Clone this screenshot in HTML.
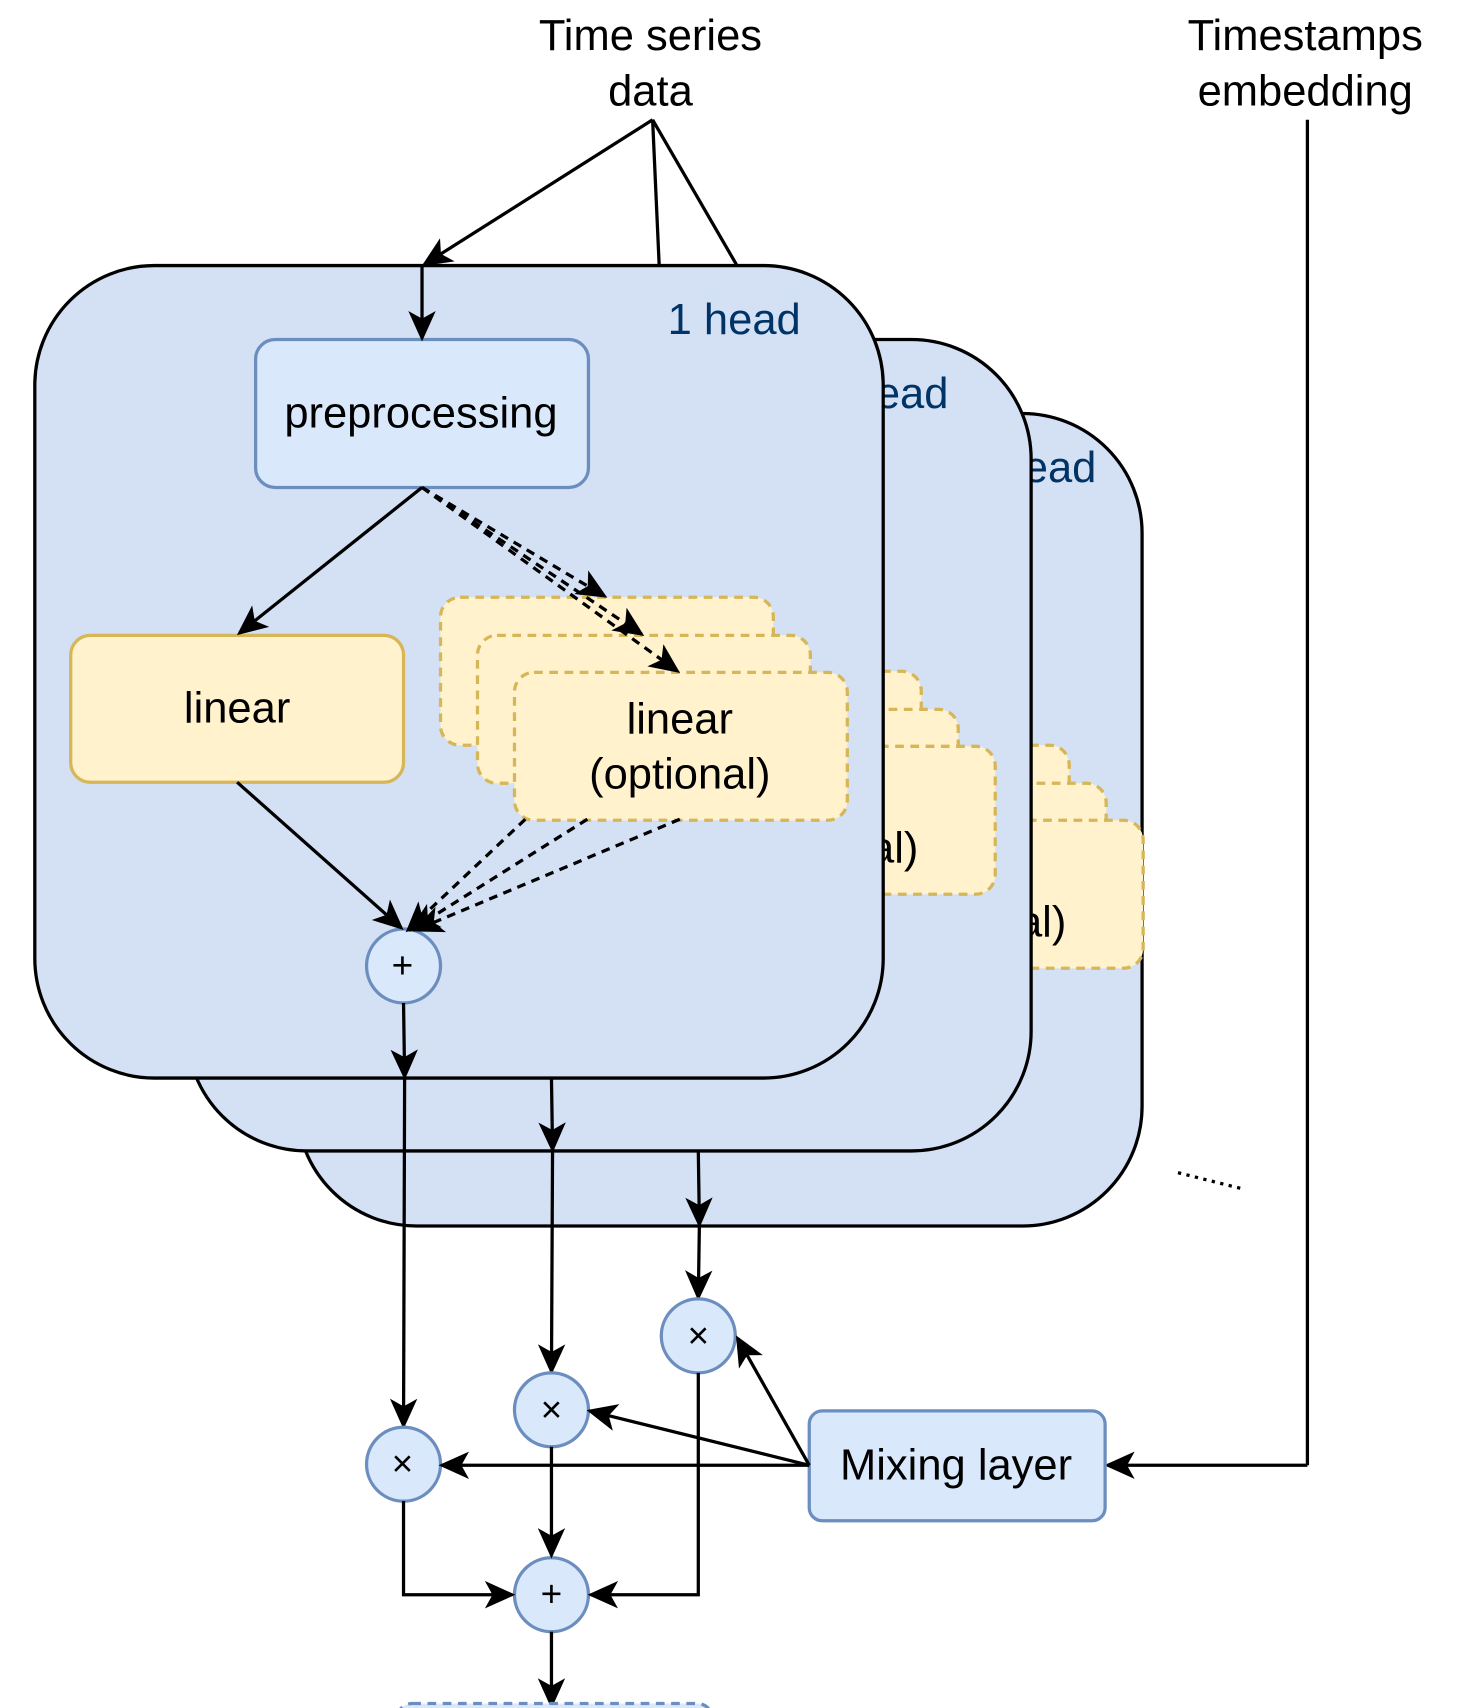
<!DOCTYPE html>
<html><head><meta charset="utf-8"><style>
html,body{margin:0;padding:0;background:#fff;}
svg{display:block;}
text{font-family:"Liberation Sans",Arial,sans-serif;}
</style></head><body>
<svg width="1476" height="1708" viewBox="0 0 1357 1570" xmlns="http://www.w3.org/2000/svg">
<defs>
<marker id="a" markerUnits="userSpaceOnUse" markerWidth="28" markerHeight="28" viewBox="0 0 20 20" refX="18" refY="10" orient="auto">
<path d="M0,1 L20,10 L0,19 L5,10 z" fill="#000"/>
</marker>
</defs>
<g fill="none" stroke="#000" stroke-width="3">
<rect x="273" y="380" width="777" height="747" rx="110" fill="#d4e1f5"/>
<rect x="677" y="685" width="306" height="136" rx="18" fill="#fff2cc" stroke="#d6b656" stroke-dasharray="8,6"/>
<rect x="711" y="720" width="306" height="136" rx="18" fill="#fff2cc" stroke="#d6b656" stroke-dasharray="8,6"/>
<rect x="745" y="754" width="306" height="136" rx="18" fill="#fff2cc" stroke="#d6b656" stroke-dasharray="8,6"/>
</g>
<text x="1008" y="443" font-size="40" fill="#003366" text-anchor="end">3 head</text>
<text x="897" y="797" font-size="40" text-anchor="middle">linear</text>
<text x="897" y="861" font-size="40" text-anchor="middle">(optional)</text>
<g fill="none" stroke="#000" stroke-width="3">
<rect x="172" y="312" width="776" height="746" rx="110" fill="#d4e1f5"/>
<rect x="541" y="617" width="306" height="136" rx="18" fill="#fff2cc" stroke="#d6b656" stroke-dasharray="8,6"/>
<rect x="575" y="652" width="306" height="136" rx="18" fill="#fff2cc" stroke="#d6b656" stroke-dasharray="8,6"/>
<rect x="609" y="686" width="306" height="136" rx="18" fill="#fff2cc" stroke="#d6b656" stroke-dasharray="8,6"/>
</g>
<text x="872" y="375" font-size="40" fill="#003366" text-anchor="end">2 head</text>
<text x="761" y="729" font-size="40" text-anchor="middle">linear</text>
<text x="761" y="793" font-size="40" text-anchor="middle">(optional)</text>
<g fill="none" stroke="#000" stroke-width="3">
<rect x="32" y="244" width="780" height="747" rx="110" fill="#d4e1f5"/>
<rect x="235" y="312" width="306" height="136" rx="18" fill="#dae8fc" stroke="#6c8ebf"/>
<rect x="65" y="584" width="306" height="135" rx="18" fill="#fff2cc" stroke="#d6b656"/>
<rect x="405" y="549" width="306" height="136" rx="18" fill="#fff2cc" stroke="#d6b656" stroke-dasharray="8,6"/>
<rect x="439" y="584" width="306" height="136" rx="18" fill="#fff2cc" stroke="#d6b656" stroke-dasharray="8,6"/>
<rect x="473" y="618" width="306" height="136" rx="18" fill="#fff2cc" stroke="#d6b656" stroke-dasharray="8,6"/>
<circle cx="371" cy="888" r="34" fill="#dae8fc" stroke="#6c8ebf"/>
<line x1="388" y1="244" x2="388" y2="311" marker-end="url(#a)"/>
<line x1="388" y1="448" x2="220" y2="582" marker-end="url(#a)"/>
<g stroke-dasharray="8,6">
<line x1="388" y1="448" x2="556" y2="548" marker-end="url(#a)"/>
<line x1="388" y1="448" x2="590" y2="583" marker-end="url(#a)"/>
<line x1="388" y1="448" x2="623" y2="617" marker-end="url(#a)"/>
<line x1="483" y1="753" x2="375" y2="855" marker-end="url(#a)"/>
<line x1="540" y1="753" x2="378" y2="855" marker-end="url(#a)"/>
<line x1="625" y1="753" x2="382" y2="855" marker-end="url(#a)"/>
</g>
<line x1="218" y1="719" x2="369" y2="853" marker-end="url(#a)"/>
<line x1="600" y1="110" x2="390" y2="243" marker-end="url(#a)"/>
<line x1="600" y1="110" x2="606" y2="243"/>
<line x1="600" y1="110" x2="677" y2="243"/>
<line x1="1202" y1="110" x2="1202" y2="1347"/>
<line x1="1202" y1="1347" x2="1018" y2="1347" marker-end="url(#a)"/>
<line x1="371" y1="922" x2="372" y2="990" marker-end="url(#a)"/>
<line x1="372" y1="990" x2="371" y2="1311" marker-end="url(#a)"/>
<line x1="507" y1="991" x2="508" y2="1057" marker-end="url(#a)"/>
<line x1="508" y1="1057" x2="507" y2="1261" marker-end="url(#a)"/>
<line x1="642" y1="1058" x2="643" y2="1126" marker-end="url(#a)"/>
<line x1="643" y1="1126" x2="642" y2="1193" marker-end="url(#a)"/>
<circle cx="642" cy="1228" r="34" fill="#dae8fc" stroke="#6c8ebf"/>
<circle cx="507" cy="1296" r="34" fill="#dae8fc" stroke="#6c8ebf"/>
<circle cx="371" cy="1346" r="34" fill="#dae8fc" stroke="#6c8ebf"/>
<circle cx="507" cy="1466" r="34" fill="#dae8fc" stroke="#6c8ebf"/>
<rect x="744" y="1297" width="272" height="101" rx="12" fill="#dae8fc" stroke="#6c8ebf"/>
<line x1="744" y1="1347" x2="406" y2="1347" marker-end="url(#a)"/>
<line x1="744" y1="1347" x2="542" y2="1297" marker-end="url(#a)"/>
<line x1="744" y1="1347" x2="678" y2="1230" marker-end="url(#a)"/>
<polyline points="371,1380 371,1466 471,1466" marker-end="url(#a)"/>
<line x1="507" y1="1330" x2="507" y2="1430" marker-end="url(#a)"/>
<polyline points="642,1262 642,1466 543,1466" marker-end="url(#a)"/>
<line x1="507" y1="1500" x2="507" y2="1568" marker-end="url(#a)"/>
<rect x="365" y="1566" width="290" height="60" rx="14" fill="#dae8fc" stroke="#6c8ebf" stroke-dasharray="8,6"/>
<line x1="1083" y1="1078" x2="1143" y2="1093" stroke-dasharray="3,5"/>
</g>
<text x="675" y="307" font-size="40" fill="#003366" text-anchor="middle">1 head</text>
<text x="387" y="393" font-size="40" text-anchor="middle">preprocessing</text>
<text x="218" y="664" font-size="40" text-anchor="middle">linear</text>
<text x="625" y="674" font-size="40" text-anchor="middle">linear</text>
<text x="625" y="725" font-size="40" text-anchor="middle">(optional)</text>
<text x="598" y="46" font-size="40" text-anchor="middle">Time series</text>
<text x="598" y="97" font-size="40" text-anchor="middle">data</text>
<text x="1200" y="46" font-size="40" text-anchor="middle">Timestamps</text>
<text x="1200" y="97" font-size="40" text-anchor="middle">embedding</text>
<text x="879" y="1360" font-size="40" text-anchor="middle">Mixing layer</text>
<g font-size="34" text-anchor="middle">
<text x="370" y="899">+</text>
<text x="507" y="1477">+</text>
<text x="642" y="1239">×</text>
<text x="507" y="1307">×</text>
<text x="370" y="1357">×</text>
</g>
</svg>
</body></html>
